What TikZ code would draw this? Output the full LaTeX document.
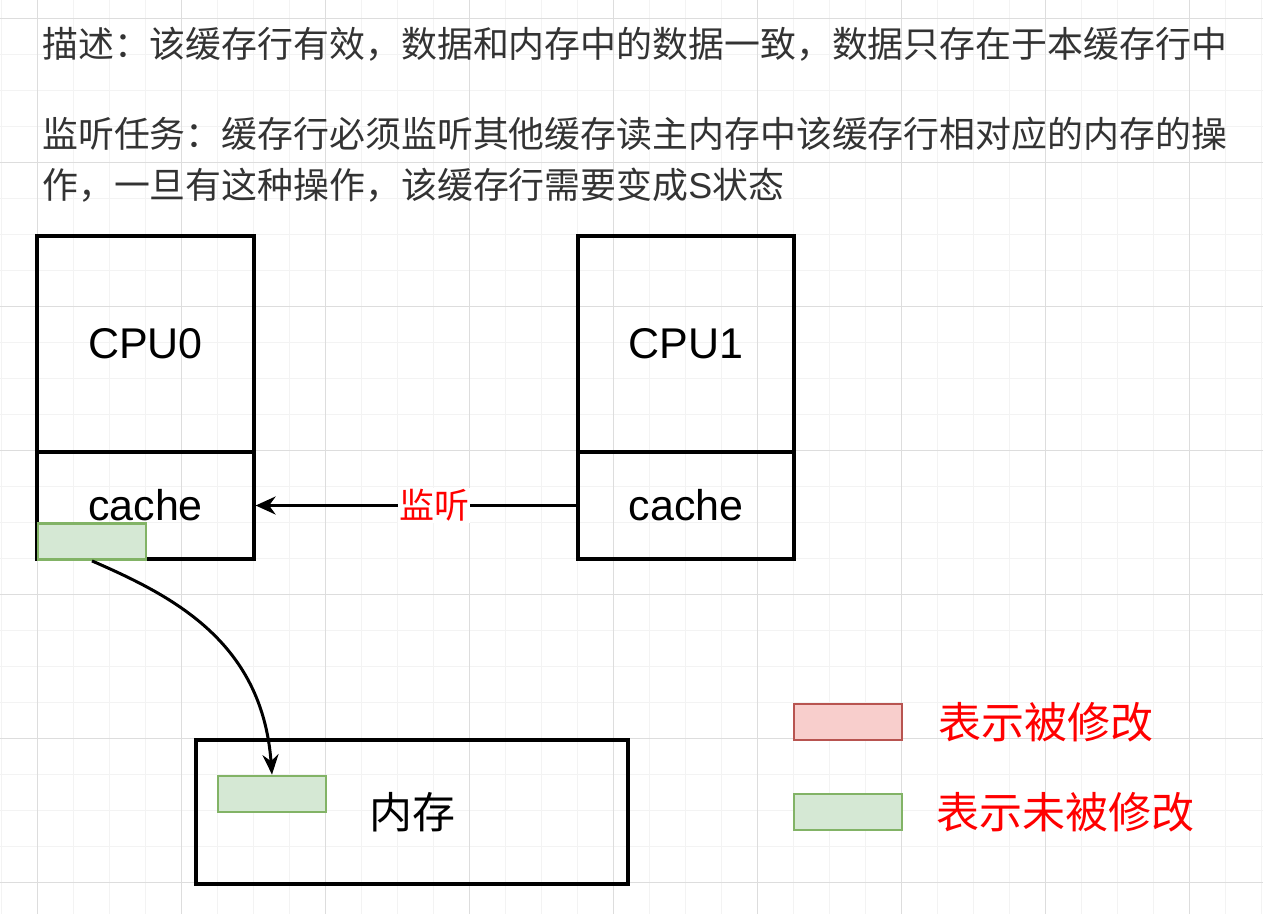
\documentclass[tikz,border=0pt]{standalone}
\usepackage{fontspec}
\setmainfont{Liberation Sans}
\newfontfamily\cjk{Noto Sans CJK SC}
\usetikzlibrary{arrows.meta}
\definecolor{gfill}{HTML}{D5E8D4}\definecolor{gline}{HTML}{82B366}
\definecolor{rfill}{HTML}{F8CECC}\definecolor{rline}{HTML}{B85450}
\definecolor{txt}{HTML}{333333}
\definecolor{minor}{HTML}{F3F3F3}\definecolor{major}{HTML}{DDDDDD}
\begin{document}
\begin{tikzpicture}[x=1pt,y=-1pt,
  box/.style={draw=black,line width=3.2pt,inner sep=0pt},
  gbox/.style={draw=gline,fill=gfill,line width=2.8pt,minimum width=108pt,minimum height=36pt,inner sep=0pt},
  rbox/.style={draw=rline,fill=rfill,line width=2.8pt,minimum width=108pt,minimum height=36pt,inner sep=0pt},
  lbl/.style={font=\fontsize{43}{48}\selectfont},
  desc/.style={font=\cjk\fontsize{35.9}{50}\selectfont,text=txt,anchor=west,inner sep=0pt},
  red/.style={text=red,font=\cjk\fontsize{43}{48}\selectfont,anchor=west,inner sep=0pt}]
\useasboundingbox (0,0) rectangle (1263,914);
\fill[white] (0,0) rectangle (1263,914);
\foreach \x in {1.7,37.7,...,1263}{\draw[minor,line width=1pt] (\x,0)--(\x,914);}
\foreach \y in {18,54,...,914}{\draw[minor,line width=1pt] (0,\y)--(1263,\y);}
\foreach \x in {37.7,181.7,...,1263}{\draw[major,line width=1pt] (\x,0)--(\x,914);}
\foreach \y in {18,162,...,914}{\draw[major,line width=1pt] (0,\y)--(1263,\y);}
\node[desc] (d1) at (42,44) {描述：该缓存行有效，数据和内存中的数据一致，数据只存在于本缓存行中};
\node[desc] (d2) at (42,134) {监听任务：缓存行必须监听其他缓存读主内存中该缓存行相对应的内存的操};
\node[desc] (d3) at (42,185) {作，一旦有这种操作，该缓存行需要变成{\fontspec{Liberation Sans}S}状态};
\node[box,lbl,minimum width=217pt,minimum height=216pt] (cpu0) at (145.5,344) {CPU0};
\node[box,lbl,minimum width=217pt,minimum height=107pt] (c0) at (145.5,505.5) {cache};
\node[box,lbl,minimum width=216pt,minimum height=216pt] (cpu1) at (686,344) {CPU1};
\node[box,lbl,minimum width=216pt,minimum height=107pt] (c1) at (686,505.5) {cache};
\node[box,lbl,minimum width=432pt,minimum height=144pt] (mem) at (412,812) {{\cjk 内存}};
\node[gbox] (g0) at (92,541.5) {};
\node[gbox] (gm) at (272,794) {};
\draw[line width=3pt,-{Stealth[length=20pt,width=18pt]}] (c1.west) -- node[fill=white,inner sep=1pt,text=red,font=\cjk\fontsize{35}{40}\selectfont,xshift=18pt]{监听} (c0.east);
\draw[line width=3pt,-{Stealth[length=20pt,width=16pt]}] (g0.south) .. controls (170,595) and (262,640) .. (gm.north);
\node[rbox] (lr) at (848,722) {};
\node[gbox] (lg) at (848,812) {};
\node[red] (tr) at (938,722) {表示被修改};
\node[red] (tg) at (936,812) {表示未被修改};
\end{tikzpicture}
\end{document}
